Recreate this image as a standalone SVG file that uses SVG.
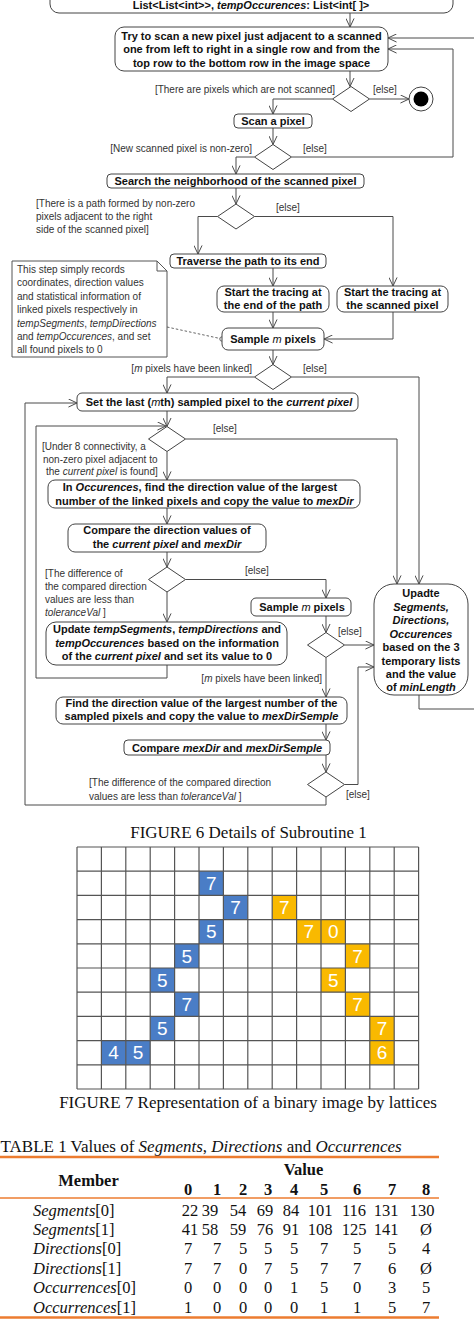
<svg xmlns="http://www.w3.org/2000/svg" width="474" height="1319" viewBox="0 0 474 1319">
<defs>
<marker id="ah" viewBox="0 0 10 10" refX="9.5" refY="5" markerWidth="9" markerHeight="9" markerUnits="userSpaceOnUse" orient="auto">
<path d="M0,0.5 L9.5,5 L0,9.5" fill="none" stroke="#4a4a4a" stroke-width="1.1"/>
</marker>
<style>
.b{fill:#fff;stroke:#444;stroke-width:1}
.d{fill:#fff;stroke:#444;stroke-width:1}
.t{font-family:"Liberation Sans",Arial,sans-serif;font-size:11px;font-weight:bold;fill:#111;text-anchor:middle}
.g{font-family:"Liberation Sans",Arial,sans-serif;font-size:10px;fill:#333}
.e{text-anchor:end}
.c{fill:none;stroke:#4a4a4a;stroke-width:1;marker-end:url(#ah)}
.i{font-style:italic}
.s{font-family:"Liberation Serif","Times New Roman",serif;fill:#111}
.gl{stroke:#555;stroke-width:1.2}
.bl{fill:#4a7dc6}
.or{fill:#f9b900}
.dg{font-family:"Liberation Sans",Arial,sans-serif;font-size:19px;fill:#fff;text-anchor:middle}
.ol{stroke:#ec7c30}
</style>
</defs>

<g id="connectors">
<path class="c" d="M350,13 V27"/>
<path class="c" d="M350,71 V86.5"/>
<path class="c" d="M332.5,99 H273 V114"/>
<path class="c" d="M369.5,99 H409"/>
<path class="c" d="M273,128 V144.5"/>
<path class="c" d="M254.5,157 H236 V174"/>
<path class="c" d="M291.5,157 H453 V49 H388"/>
<path class="c" d="M236,188 V204"/>
<path class="c" d="M217.5,216.5 H198 V254"/>
<path class="c" d="M254.5,216.5 H393 V286"/>
<path class="c" d="M273,268 V286"/>
<path class="c" d="M273,312 V328"/>
<path class="c" d="M393,312 V339 H324"/>
<path d="M167,327 L220,338.5" fill="none" stroke="#555" stroke-width="0.9" stroke-dasharray="2.5,2"/>
<circle cx="222" cy="339" r="2.2" fill="#fff" stroke="#555" stroke-width="0.9"/>
<path class="c" d="M273,350 V364.5"/>
<path class="c" d="M254.5,377 H167 V393"/>
<path class="c" d="M291.5,377 H419 V584"/>
<path class="c" d="M167,411 V426.5"/>
<path class="c" d="M185.5,439 H397 V584"/>
<path class="c" d="M167,451.5 V480"/>
<path class="c" d="M167,508 V524"/>
<path class="c" d="M167,552 V567"/>
<path class="c" d="M167,592 V622"/>
<path class="c" d="M185.5,579.5 H326 V598"/>
<path class="c" d="M167,665 V678 H36 V426 H166"/>
<path class="c" d="M326,616 V632.5"/>
<path class="c" d="M344.5,645 H374"/>
<path class="c" d="M326,657.5 V697"/>
<path class="c" d="M326,724 V740"/>
<path class="c" d="M326,755 V772"/>
<path class="c" d="M344.5,784.5 H358 V667 H374"/>
<path class="c" d="M326,797 V805 H25 V403 H77"/>
<path class="c" d="M419,695 V709 H478 V38 H388"/>
</g>

<g id="top">
<rect class="b" x="50" y="-30" width="403" height="43" rx="9"/>
<text class="t" x="251" y="9">List&lt;List&lt;int&gt;&gt;, <tspan class="i">tempOccurences</tspan>: List&lt;int[ ]&gt;</text>
</g>

<g id="try">
<rect class="b" x="115" y="27" width="273" height="44" rx="9"/>
<text class="t" x="251.5" y="39.5">Try to scan a new pixel just adjacent to a scanned</text>
<text class="t" x="251.5" y="53">one from left to right in a single row and from the</text>
<text class="t" x="251.5" y="66.5">top row to the bottom row in the image space</text>
</g>

<g id="d1">
<polygon class="d" points="351,86.5 369.5,99 351,111.5 332.5,99"/>
<text class="g e" x="335" y="92.5">[There are pixels which are not scanned]</text>
<text class="g" x="373" y="92.5">[else]</text>
</g>

<g id="final">
<circle cx="421" cy="99" r="12" fill="#fff" stroke="#444" stroke-width="1"/>
<circle cx="421" cy="99" r="7.5" fill="#000"/>
</g>

<g id="scan">
<rect class="b" x="234" y="114" width="78" height="14" rx="4"/>
<text class="t" x="273" y="125">Scan a pixel</text>
</g>

<g id="d2">
<polygon class="d" points="273,144.5 291.5,157 273,169.5 254.5,157"/>
<text class="g e" x="252" y="151.5">[New scanned pixel is non-zero]</text>
<text class="g" x="303" y="151.5">[else]</text>
</g>

<g id="search">
<rect class="b" x="107" y="174" width="257" height="14" rx="4"/>
<text class="t" x="235.5" y="185">Search the neighborhood of the scanned pixel</text>
</g>

<g id="d3">
<polygon class="d" points="236,204 254.5,216.5 236,229 217.5,216.5"/>
<text class="g" x="36" y="207">[There is a path formed by non-zero</text>
<text class="g" x="36" y="220">pixels adjacent to the right</text>
<text class="g" x="36" y="232.5">side of the scanned pixel]</text>
<text class="g" x="276" y="210.5">[else]</text>
</g>

<g id="traverse">
<rect class="b" x="170" y="254" width="156" height="14" rx="4"/>
<text class="t" x="248" y="265">Traverse the path to its end</text>
</g>

<g id="start1">
<rect class="b" x="217" y="286" width="112" height="26" rx="7"/>
<text class="t" x="273" y="296">Start the tracing at</text>
<text class="t" x="273" y="309">the end of the path</text>
</g>

<g id="start2">
<rect class="b" x="337" y="286" width="111" height="26" rx="7"/>
<text class="t" x="392.5" y="296">Start the tracing at</text>
<text class="t" x="392.5" y="309">the scanned pixel</text>
</g>

<g id="note">
<polygon points="12,261 157,261 167,271 167,357 12,357" fill="#fff" stroke="#555" stroke-width="1"/>
<polyline points="157,261 157,271 167,271" fill="none" stroke="#555" stroke-width="1"/>
<text class="g" x="17" y="272.5">This step simply records</text>
<text class="g" x="17" y="286">coordinates, direction values</text>
<text class="g" x="17" y="299.5">and statistical information of</text>
<text class="g" x="17" y="313">linked pixels respectively in</text>
<text class="g" x="17" y="326.5"><tspan class="i">tempSegments</tspan>, <tspan class="i">tempDirections</tspan></text>
<text class="g" x="17" y="340">and <tspan class="i">tempOccurences</tspan>, and set</text>
<text class="g" x="17" y="353">all found pixels to 0</text>
</g>

<g id="sample1">
<rect class="b" x="222" y="328" width="102" height="22" rx="6"/>
<text class="t" x="273" y="343">Sample <tspan class="i" font-weight="normal">m</tspan> pixels</text>
</g>

<g id="d4">
<polygon class="d" points="273,364.5 291.5,377 273,389.5 254.5,377"/>
<text class="g e" x="252" y="371.5">[<tspan class="i">m</tspan> pixels have been linked]</text>
<text class="g" x="303" y="371.5">[else]</text>
</g>

<g id="set">
<rect class="b" x="77" y="393" width="281" height="18" rx="5"/>
<text class="t" x="219" y="406">Set the last (<tspan class="i" font-weight="normal">m</tspan>th) sampled pixel to the <tspan class="i">current pixel</tspan></text>
</g>

<g id="d5">
<polygon class="d" points="167,426.5 185.5,439 167,451.5 148.5,439"/>
<text class="g" x="42" y="449.5">[Under 8 connectivity, a</text>
<text class="g" x="43" y="462.5">non-zero pixel adjacent to</text>
<text class="g" x="46" y="475">the <tspan class="i">current pixel</tspan> is found]</text>
<text class="g" x="213" y="431.5">[else]</text>
</g>

<g id="inocc">
<rect class="b" x="48" y="480" width="312" height="28" rx="7"/>
<text class="t" x="200" y="491">In <tspan class="i">Occurences</tspan>, find the direction value of the largest</text>
<text class="t" x="204.5" y="505">number of the linked pixels and copy the value to <tspan class="i">mexDir</tspan></text>
</g>

<g id="compare1">
<rect class="b" x="68" y="524" width="198" height="28" rx="7"/>
<text class="t" x="167" y="534">Compare the direction values of</text>
<text class="t" x="167" y="548">the <tspan class="i">current pixel</tspan> and <tspan class="i">mexDir</tspan></text>
</g>

<g id="d6">
<polygon class="d" points="167,567 185.5,579.5 167,592 148.5,579.5"/>
<text class="g" x="45" y="576.5">[The difference of</text>
<text class="g" x="45" y="589.5">the compared direction</text>
<text class="g" x="45" y="603">values are less than</text>
<text class="g" x="45" y="615.5"><tspan class="i">toleranceVal</tspan> ]</text>
<text class="g" x="245" y="573.5">[else]</text>
</g>

<g id="updatetemp">
<rect class="b" x="46" y="622" width="241" height="43" rx="10"/>
<text class="t" x="167" y="633">Update <tspan class="i">tempSegments</tspan>, <tspan class="i">tempDirections</tspan> and</text>
<text class="t" x="167" y="647"><tspan class="i">tempOccurences</tspan> based on the information</text>
<text class="t" x="167" y="660">of the <tspan class="i">current pixel</tspan> and set its value to 0</text>
</g>

<g id="sample2">
<rect class="b" x="251" y="598" width="100" height="18" rx="5"/>
<text class="t" x="302" y="611">Sample <tspan class="i" font-weight="normal">m</tspan> pixels</text>
</g>

<g id="d7">
<polygon class="d" points="326,632.5 344.5,645 326,657.5 307.5,645"/>
<text class="g" x="338" y="634.5">[else]</text>
<text class="g e" x="322" y="681.5">[<tspan class="i">m</tspan> pixels have been linked]</text>
</g>

<g id="find">
<rect class="b" x="56" y="697" width="291" height="27" rx="7"/>
<text class="t" x="201.5" y="706.5">Find the direction value of the largest number of the</text>
<text class="t" x="201.5" y="720">sampled pixels and copy the value to <tspan class="i">mexDirSemple</tspan></text>
</g>

<g id="compare2">
<rect class="b" x="124" y="740" width="206" height="15" rx="4"/>
<text class="t" x="227" y="751.5">Compare <tspan class="i">mexDir</tspan> and <tspan class="i">mexDirSemple</tspan></text>
</g>

<g id="d8">
<polygon class="d" points="326,772 344.5,784.5 326,797 307.5,784.5"/>
<text class="g" x="89" y="786">[The difference of the compared direction</text>
<text class="g" x="89" y="800">values are less than <tspan class="i">toleranceVal</tspan> ]</text>
<text class="g" x="346" y="798">[else]</text>
</g>

<g id="update">
<rect class="b" x="374" y="584" width="94" height="111" rx="20"/>
<text class="t" x="421" y="597">Upadte</text>
<text class="t i" x="421" y="610.5">Segments,</text>
<text class="t i" x="421" y="624">Directions,</text>
<text class="t i" x="421" y="637.5">Occurences</text>
<text class="t" x="421" y="651">based on the 3</text>
<text class="t" x="421" y="664.5">temporary lists</text>
<text class="t" x="421" y="678">and the value</text>
<text class="t" x="421" y="691">of <tspan class="i">minLength</tspan></text>
</g>

<text class="s" x="248.5" y="837.5" font-size="17" text-anchor="middle">FIGURE 6 Details of Subroutine 1</text>

<g id="lattice">
<g class="bl">
<rect x="199" y="871.2" width="24.4" height="24.2"/>
<rect x="223.4" y="895.4" width="24.4" height="24.2"/>
<rect x="199" y="919.6" width="24.4" height="24.2"/>
<rect x="174.6" y="943.8" width="24.4" height="24.2"/>
<rect x="150.2" y="968" width="24.4" height="24.2"/>
<rect x="174.6" y="992.2" width="24.4" height="24.2"/>
<rect x="150.2" y="1016.4" width="24.4" height="24.2"/>
<rect x="101.4" y="1040.6" width="24.4" height="24.2"/>
<rect x="125.8" y="1040.6" width="24.4" height="24.2"/>
</g>
<g class="or">
<rect x="272.2" y="895.4" width="24.4" height="24.2"/>
<rect x="296.6" y="919.6" width="24.4" height="24.2"/>
<rect x="321" y="919.6" width="24.4" height="24.2"/>
<rect x="345.4" y="943.8" width="24.4" height="24.2"/>
<rect x="321" y="968" width="24.4" height="24.2"/>
<rect x="345.4" y="992.2" width="24.4" height="24.2"/>
<rect x="369.8" y="1016.4" width="24.4" height="24.2"/>
<rect x="369.8" y="1040.6" width="24.4" height="24.2"/>
</g>
<g class="gl">
<line x1="77" y1="847" x2="418.6" y2="847"/>
<line x1="77" y1="871.2" x2="418.6" y2="871.2"/>
<line x1="77" y1="895.4" x2="418.6" y2="895.4"/>
<line x1="77" y1="919.6" x2="418.6" y2="919.6"/>
<line x1="77" y1="943.8" x2="418.6" y2="943.8"/>
<line x1="77" y1="968" x2="418.6" y2="968"/>
<line x1="77" y1="992.2" x2="418.6" y2="992.2"/>
<line x1="77" y1="1016.4" x2="418.6" y2="1016.4"/>
<line x1="77" y1="1040.6" x2="418.6" y2="1040.6"/>
<line x1="77" y1="1064.8" x2="418.6" y2="1064.8"/>
<line x1="77" y1="1089" x2="418.6" y2="1089"/>
<line x1="77" y1="847" x2="77" y2="1089"/>
<line x1="101.4" y1="847" x2="101.4" y2="1089"/>
<line x1="125.8" y1="847" x2="125.8" y2="1089"/>
<line x1="150.2" y1="847" x2="150.2" y2="1089"/>
<line x1="174.6" y1="847" x2="174.6" y2="1089"/>
<line x1="199" y1="847" x2="199" y2="1089"/>
<line x1="223.4" y1="847" x2="223.4" y2="1089"/>
<line x1="247.8" y1="847" x2="247.8" y2="1089"/>
<line x1="272.2" y1="847" x2="272.2" y2="1089"/>
<line x1="296.6" y1="847" x2="296.6" y2="1089"/>
<line x1="321" y1="847" x2="321" y2="1089"/>
<line x1="345.4" y1="847" x2="345.4" y2="1089"/>
<line x1="369.8" y1="847" x2="369.8" y2="1089"/>
<line x1="394.2" y1="847" x2="394.2" y2="1089"/>
<line x1="418.6" y1="847" x2="418.6" y2="1089"/>
</g>
<g class="dg">
<text x="211.2" y="890">7</text>
<text x="235.6" y="914.2">7</text>
<text x="211.2" y="938.4">5</text>
<text x="186.8" y="962.6">5</text>
<text x="162.4" y="986.8">5</text>
<text x="186.8" y="1011">7</text>
<text x="162.4" y="1035.2">5</text>
<text x="113.6" y="1059.4">4</text>
<text x="138" y="1059.4">5</text>
<text x="284.4" y="914.2">7</text>
<text x="308.8" y="938.4">7</text>
<text x="333.2" y="938.4">0</text>
<text x="357.6" y="962.6">7</text>
<text x="333.2" y="986.8">5</text>
<text x="357.6" y="1011">7</text>
<text x="382" y="1035.2">7</text>
<text x="382" y="1059.4">6</text>
</g>
</g>

<text class="s" x="248" y="1107.5" font-size="17" text-anchor="middle">FIGURE 7 Representation of a binary image by lattices</text>

<g id="table">
<text class="s" x="0.5" y="1151.5" font-size="17">TABLE 1 Values of <tspan class="i">Segments</tspan>, <tspan class="i">Directions</tspan> and <tspan class="i">Occurrences</tspan></text>
<line class="ol" x1="0" y1="1157" x2="439" y2="1157" stroke-width="2.6"/>
<line class="ol" x1="0" y1="1198" x2="439" y2="1198" stroke-width="1.6"/>
<line class="ol" x1="0" y1="1317.5" x2="439" y2="1317.5" stroke-width="2.6"/>
<g class="s" font-size="16.5" font-weight="bold" text-anchor="middle">
<text x="88.5" y="1185.5">Member</text>
<text x="303.5" y="1174.5">Value</text>
<text x="188" y="1194.5">0</text>
<text x="217" y="1194.5">1</text>
<text x="243" y="1194.5">2</text>
<text x="268" y="1194.5">3</text>
<text x="294" y="1194.5">4</text>
<text x="324" y="1194.5">5</text>
<text x="357" y="1194.5">6</text>
<text x="392" y="1194.5">7</text>
<text x="426" y="1194.5">8</text>
</g>
<g class="s" font-size="16.5">
<text x="33" y="1215.5"><tspan class="i">Segments</tspan>[0]</text>
<text x="33" y="1235"><tspan class="i">Segments</tspan>[1]</text>
<text x="33" y="1254"><tspan class="i">Directions</tspan>[0]</text>
<text x="33" y="1273.5"><tspan class="i">Directions</tspan>[1]</text>
<text x="33" y="1293"><tspan class="i">Occurrences</tspan>[0]</text>
<text x="33" y="1312.5"><tspan class="i">Occurrences</tspan>[1]</text>
</g>
<g class="s" font-size="16.5" text-anchor="middle">
<text x="190" y="1215.5">22</text><text x="210" y="1215.5">39</text><text x="238" y="1215.5">54</text><text x="265" y="1215.5">69</text><text x="291" y="1215.5">84</text><text x="320" y="1215.5">101</text><text x="354" y="1215.5">116</text><text x="386" y="1215.5">131</text><text x="422" y="1215.5">130</text>
<text x="190" y="1235">41</text><text x="210" y="1235">58</text><text x="238" y="1235">59</text><text x="265" y="1235">76</text><text x="291" y="1235">91</text><text x="320" y="1235">108</text><text x="354" y="1235">125</text><text x="386" y="1235">141</text><text x="426" y="1235">Ø</text>
<text x="188" y="1254">7</text><text x="217" y="1254">7</text><text x="243" y="1254">5</text><text x="268" y="1254">5</text><text x="294" y="1254">5</text><text x="324" y="1254">7</text><text x="357" y="1254">5</text><text x="392" y="1254">5</text><text x="426" y="1254">4</text>
<text x="188" y="1273.5">7</text><text x="217" y="1273.5">7</text><text x="243" y="1273.5">0</text><text x="268" y="1273.5">7</text><text x="294" y="1273.5">5</text><text x="324" y="1273.5">7</text><text x="357" y="1273.5">7</text><text x="392" y="1273.5">6</text><text x="426" y="1273.5">Ø</text>
<text x="188" y="1293">0</text><text x="217" y="1293">0</text><text x="243" y="1293">0</text><text x="268" y="1293">0</text><text x="294" y="1293">1</text><text x="324" y="1293">5</text><text x="357" y="1293">0</text><text x="392" y="1293">3</text><text x="426" y="1293">5</text>
<text x="188" y="1312.5">1</text><text x="217" y="1312.5">0</text><text x="243" y="1312.5">0</text><text x="268" y="1312.5">0</text><text x="294" y="1312.5">0</text><text x="324" y="1312.5">1</text><text x="357" y="1312.5">1</text><text x="392" y="1312.5">5</text><text x="426" y="1312.5">7</text>
</g>
</g>
</svg>
